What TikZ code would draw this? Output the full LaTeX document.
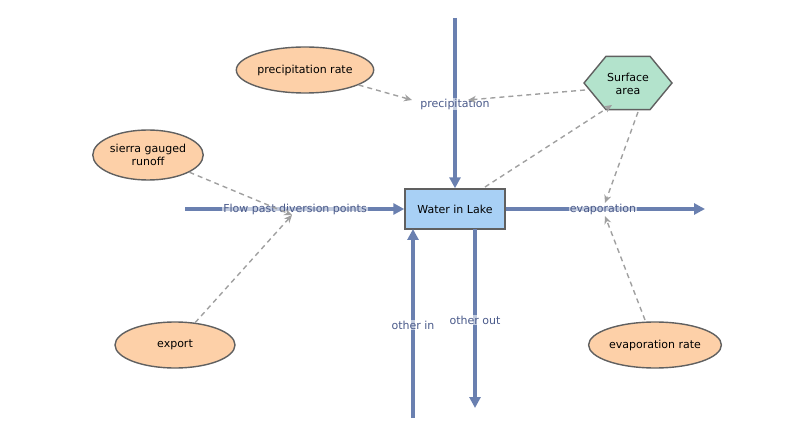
\documentclass[tikz,border=0pt]{standalone}
\usepackage{fontspec}
\setmainfont{DejaVu Sans}
\usetikzlibrary{shapes.geometric,arrows.meta}
\definecolor{flowc}{HTML}{6A80B0}
\definecolor{lab}{HTML}{4A5A8A}
\definecolor{linkc}{HTML}{A0A0A0}
\definecolor{stockc}{HTML}{A8D0F5}
\definecolor{auxc}{HTML}{FDD0A8}
\definecolor{hexc}{HTML}{B3E3CC}
\definecolor{edgec}{HTML}{606060}
\begin{document}
\begin{tikzpicture}[x=1pt,y=-1pt,font=\fontsize{11}{13}\selectfont,
 flow/.style={line width=3.4pt,draw=flowc,-{Triangle[length=11pt,width=11pt]}},
 link/.style={draw=linkc,line width=1.4pt,dash pattern=on 5pt off 4pt,-{Stealth[length=8pt,width=7pt]}},
 aux/.style={ellipse,draw=edgec,fill=auxc,line width=1.4pt,minimum width=120pt,minimum height=46pt,align=center,inner sep=1pt},
 flab/.style={text=lab,fill=white,fill opacity=0.6,text opacity=1,inner sep=1pt}]
\useasboundingbox (0,0) rectangle (800,438);
\node[draw=edgec,fill=stockc,line width=1.4pt,minimum width=100pt,minimum height=40pt,inner sep=0pt] (lake) at (455,209) {Water in Lake};
\node[regular polygon,regular polygon sides=6,draw=edgec,fill=hexc,line width=1.4pt,minimum width=88pt,inner sep=0pt,yscale=0.7] (sa) at (628,83) {};
\node[align=center] (satxt) at (628,84) {Surface\\area};
\node[aux] (pr) at (305,70) {precipitation rate};
\node[aux,minimum width=104pt,minimum height=50pt] (sgr) at (148,155) {sierra gauged\\runoff};
\node[aux] (ex) at (175,345) {export};
\node[aux] (er) at (655,345) {evaporation rate};
\coordinate (ps) at (455,18);
\coordinate (fs) at (185,209);
\coordinate (ee) at (705,209);
\coordinate (ois) at (413,418);
\coordinate (ooe) at (475,408);
\draw[flow] (ps) -- (lake.north);
\draw[flow] (fs) -- (lake.west);
\draw[flow] (lake.east) -- (ee);
\draw[flow] (ois) -- (413,229);
\draw[flow] (475,229) -- (ooe);
\node[flab] (pl) at (455,104) {precipitation};
\node[flab] (fl) at (295,209) {Flow past diversion points};
\node[flab] (el) at (603,209) {evaporation};
\node[flab] (oil) at (413,325) {other in};
\node[flab] (ool) at (475,320) {other out};
\coordinate (pa) at (412,100);
\coordinate (pb) at (468,100);
\coordinate (fa) at (292,215);
\coordinate (ea) at (605,203);
\coordinate (eb) at (605,216);
\draw[link] (pr) -- (pa);
\draw[link] (585,90) -- (pb);
\draw[link] (485,187) -- (612,105);
\draw[link] (638,112) -- (ea);
\draw[link] (645,320) -- (eb);
\draw[link] (sgr) -- (fa);
\draw[link] (ex) -- (fa);
\end{tikzpicture}
\end{document}
